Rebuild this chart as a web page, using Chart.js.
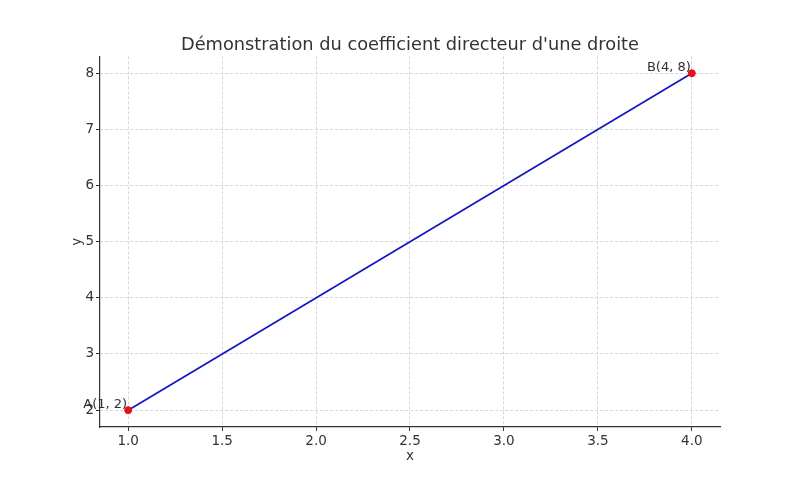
<!DOCTYPE html>
<html>
<head>
<meta charset="utf-8">
<script src="https://cdn.jsdelivr.net/npm/chart.js@4/dist/chart.umd.min.js"></script>
<style>
  html, body { margin: 0; padding: 0; background: #fff; }
  #wrap { width: 800px; height: 480px; }
</style>
</head>
<body>
<div id="wrap"><canvas id="chart" width="800" height="480"></canvas></div>
<script>
// points of the line
let pointNames = ["A", "B"];
let xs = [1, 4];
let ys = [2, 8];

let xTicks = [1.0, 1.5, 2.0, 2.5, 3.0, 3.5, 4.0];
let yTicks = [2, 3, 4, 5, 6, 7, 8];

let pts = xs.map((x, i) => ({ x: x, y: ys[i] }));

// writes "A(1, 2)" next to each point, like plt.text
const pointLabels = {
  id: "pointLabels",
  afterDatasetsDraw(chart) {
    let ctx = chart.ctx;
    let sx = chart.scales.x, sy = chart.scales.y;
    ctx.save();
    ctx.font = "13px 'DejaVu Sans'";
    ctx.fillStyle = "#333333";
    ctx.textAlign = "right";
    ctx.textBaseline = "bottom";
    for (let i = 0; i < xs.length; i++) {
      let px = sx.getPixelForValue(xs[i]);
      let py = sy.getPixelForValue(ys[i]);
      ctx.fillText(pointNames[i] + "(" + xs[i] + ", " + ys[i] + ")", px - 1, py + 1);
    }
    ctx.restore();
  }
};

new Chart(document.getElementById("chart"), {
  type: "scatter",
  data: {
    datasets: [
      {
        data: pts,
        showLine: false,
        pointRadius: 3.5,
        pointBackgroundColor: "#e8101e",
        pointBorderColor: "#e8101e",
        order: 0
      },
      {
        data: pts,
        showLine: true,
        borderColor: "#1414c8",
        borderWidth: 1.7,
        pointRadius: 0,
        order: 1
      }
    ]
  },
  options: {
    responsive: false,
    animation: false,
    layout: { padding: { left: 0, right: 80, top: 0, bottom: 0 } },
    plugins: {
      legend: { display: false },
      tooltip: { enabled: false },
      title: {
        display: true,
        text: "Démonstration du coefficient directeur d'une droite",
        fullSize: false,
        color: "#333333",
        font: { family: "DejaVu Sans", size: 17.8, weight: "normal" },
        padding: { top: 35, bottom: 0 }
      }
    },
    scales: {
      x: {
        type: "linear",
        min: 0.85,
        max: 4.15,
        afterBuildTicks: s => { s.ticks = xTicks.map(v => ({ value: v })); },
        afterFit: s => { s.height = 53; },
        ticks: {
          color: "#333333",
          font: { family: "DejaVu Sans", size: 13.5 },
          padding: 2,
          callback: v => v.toFixed(1)
        },
        grid: { color: "#d6d6d6", tickColor: "#333333", tickLength: 4 },
        border: { color: "#333333", width: 1.2, dash: [3, 2] },
        title: {
          display: true,
          text: "x",
          color: "#333333",
          font: { family: "DejaVu Sans", size: 13.5 },
          padding: { top: 0, bottom: 15 }
        }
      },
      y: {
        type: "linear",
        min: 1.7,
        max: 8.3,
        afterBuildTicks: s => { s.ticks = yTicks.map(v => ({ value: v })); },
        afterFit: s => { s.width = 100; },
        ticks: {
          color: "#333333",
          font: { family: "DejaVu Sans", size: 13.5 },
          padding: 2
        },
        grid: { color: "#d6d6d6", tickColor: "#333333", tickLength: 4 },
        border: { color: "#333333", width: 1.2, dash: [3, 2] },
        title: {
          display: true,
          text: "y",
          color: "#333333",
          font: { family: "DejaVu Sans", size: 13.5 },
          padding: { top: 69, bottom: 0 }
        }
      }
    }
  },
  plugins: [pointLabels]
});
</script>
</body>
</html>
